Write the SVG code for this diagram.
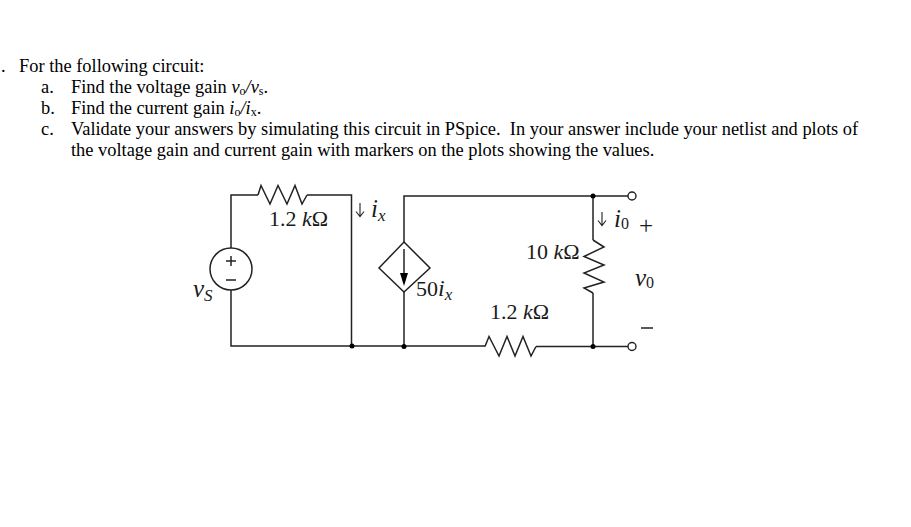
<svg xmlns="http://www.w3.org/2000/svg" width="911" height="527" viewBox="0 0 911 527">
<style>
.t{font-family:"Liberation Serif","Times New Roman",serif;font-size:18.4px;fill:#000;white-space:pre}
.m{font-family:"Liberation Serif","DejaVu Serif",serif;font-size:22px;fill:#1a1a1a;white-space:pre}
.v{font-size:25px}
.i{font-style:italic}
.w{fill:none;stroke:#222;stroke-width:1.5;stroke-linejoin:miter}
.a{fill:none;stroke:#222;stroke-width:1.1}
.d{fill:#000}
.o{fill:#fff;stroke:#222;stroke-width:1.4}
</style>
<rect width="911" height="527" fill="#fff"/>
<g id="problem-text">
<text class="t" x="1" y="72">.</text>
<text class="t" x="19" y="72">For the following circuit:</text>
<text class="t" x="41" y="93">a.</text>
<text class="t" x="71" y="93">Find the voltage gain <tspan class="i">v</tspan><tspan font-size="12" dy="2">o</tspan><tspan dy="-2" class="i">/v</tspan><tspan font-size="12" dy="2">s</tspan><tspan dy="-2">.</tspan></text>
<text class="t" x="41" y="114">b.</text>
<text class="t" x="71" y="114">Find the current gain <tspan class="i">i</tspan><tspan font-size="12" dy="2">o</tspan><tspan dy="-2" class="i">/i</tspan><tspan font-size="12" dy="2">x</tspan><tspan dy="-2">.</tspan></text>
<text class="t" x="41" y="135">c.</text>
<text class="t" x="71" y="135">Validate your answers by simulating this circuit in PSpice.  In your answer include your netlist and plots of</text>
<text class="t" x="71" y="156">the voltage gain and current gain with markers on the plots showing the values.</text>
</g>
<g id="connectors">
<path class="w" d="M231 248V195H258"/>
<path class="w" d="M307 195H351.500V346"/>
<path class="w" d="M231 290V346H485"/>
<path class="w" d="M404 242V196H632"/>
<path class="w" d="M404 292V346"/>
<path class="w" d="M536 346.500H628"/>
<path class="w" d="M593 196V240"/>
<path class="w" d="M593 293V346.500"/>
</g>
<g id="R1"><path class="w" d="M258 195L261 185.500L270 204L278 185.500L287 204L295 185.500L302 204L307 195"/><text class="m" x="269" y="226">1.2 <tspan class="i">k</tspan>Ω</text></g>
<g id="Vs"><circle class="w" cx="231" cy="269" r="21"/><path class="w" d="M226 261H236M231 256V266M226 280H236"/><text class="m v i" x="193" y="297">v<tspan font-size="17" dy="4">S</tspan></text></g>
<g id="ix-label"><path class="a" d="M360 203V216M356 211.500L360 216.500L364 211.500"/><text class="m v i" x="371" y="217">i<tspan font-size="17" dy="4">x</tspan></text></g>
<g id="F1"><path class="w" d="M404 242L430 268L404 292L379 268Z"/><path class="w" d="M404 249V280"/><path class="d" d="M400 273H408L404 286Z"/><text class="m" x="416" y="296">50<tspan class="i" font-size="24">i</tspan><tspan class="i" font-size="17" dy="4">x</tspan></text></g>
<g id="R2"><path class="w" d="M593 240L604 247L584 256.500L604 265L584 273L604 282L584 288L593 293"/><text class="m" x="526" y="259">10 <tspan class="i">k</tspan>Ω</text></g>
<g id="R3"><path class="w" d="M485 346.500L489 336.500L499 356L507 336.500L515 356L523 336.500L531 356L536 346.500"/><text class="m" x="490" y="319">1.2 <tspan class="i">k</tspan>Ω</text></g>
<g id="io-label"><path class="a" d="M602 212V225M598 220.500L602 225.500L606 220.500"/><text class="m v i" x="614" y="227">i<tspan font-size="16" font-style="normal" dy="2">0</tspan></text></g>
<g id="vo-label"><text class="m v" x="639" y="234">+</text><text class="m v i" x="635" y="286">v<tspan font-size="16" font-style="normal" dy="2">0</tspan></text><path class="w" d="M641 328H653"/></g>
<g id="junctions"><circle class="d" cx="352" cy="346" r="2.500"/><circle class="d" cx="404" cy="346.500" r="2.500"/><circle class="d" cx="593" cy="196" r="2.500"/><circle class="d" cx="593" cy="346.500" r="2.500"/></g>
<g id="terminals"><circle class="o" cx="632" cy="196" r="4"/><circle class="o" cx="632" cy="346.500" r="4"/></g>
</svg>
